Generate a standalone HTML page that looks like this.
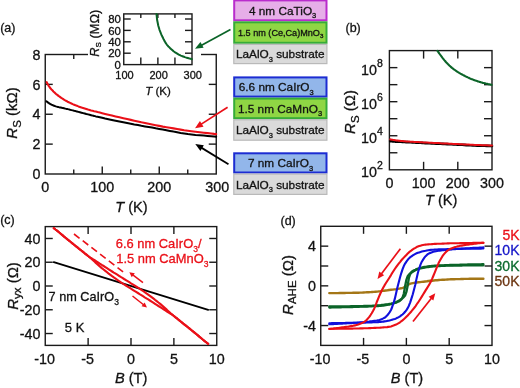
<!DOCTYPE html>
<html><head><meta charset="utf-8"><title>Figure</title>
<style>
html,body{margin:0;padding:0;background:#fff;}
body{width:520px;height:388px;overflow:hidden;font-family:'Liberation Sans', Arial, Helvetica, sans-serif;}
svg{display:block;}
svg text{font-family:'Liberation Sans', Arial, Helvetica, sans-serif;stroke-width:0.3px;paint-order:stroke;}
</style></head><body>
<svg width="520" height="388" viewBox="0 0 520 388">
<rect width="520" height="388" fill="#fff"/>
<rect x="45.25" y="54.5" width="171.0" height="119.5" fill="none" stroke="#1a1a1a" stroke-width="1.4"/>
<line x1="73.75" y1="174.00" x2="73.75" y2="169.50" stroke="#1a1a1a" stroke-width="1.4" />
<line x1="73.75" y1="54.50" x2="73.75" y2="59.00" stroke="#1a1a1a" stroke-width="1.4" />
<line x1="102.25" y1="174.00" x2="102.25" y2="166.50" stroke="#1a1a1a" stroke-width="1.4" />
<line x1="102.25" y1="54.50" x2="102.25" y2="62.00" stroke="#1a1a1a" stroke-width="1.4" />
<line x1="130.75" y1="174.00" x2="130.75" y2="169.50" stroke="#1a1a1a" stroke-width="1.4" />
<line x1="130.75" y1="54.50" x2="130.75" y2="59.00" stroke="#1a1a1a" stroke-width="1.4" />
<line x1="159.25" y1="174.00" x2="159.25" y2="166.50" stroke="#1a1a1a" stroke-width="1.4" />
<line x1="159.25" y1="54.50" x2="159.25" y2="62.00" stroke="#1a1a1a" stroke-width="1.4" />
<line x1="187.75" y1="174.00" x2="187.75" y2="169.50" stroke="#1a1a1a" stroke-width="1.4" />
<line x1="187.75" y1="54.50" x2="187.75" y2="59.00" stroke="#1a1a1a" stroke-width="1.4" />
<line x1="45.25" y1="144.12" x2="52.75" y2="144.12" stroke="#1a1a1a" stroke-width="1.4" />
<line x1="216.25" y1="144.12" x2="208.75" y2="144.12" stroke="#1a1a1a" stroke-width="1.4" />
<line x1="45.25" y1="114.25" x2="52.75" y2="114.25" stroke="#1a1a1a" stroke-width="1.4" />
<line x1="216.25" y1="114.25" x2="208.75" y2="114.25" stroke="#1a1a1a" stroke-width="1.4" />
<line x1="45.25" y1="84.38" x2="52.75" y2="84.38" stroke="#1a1a1a" stroke-width="1.4" />
<line x1="216.25" y1="84.38" x2="208.75" y2="84.38" stroke="#1a1a1a" stroke-width="1.4" />
<text x="40.50" y="179.20" font-size="14.3" text-anchor="end" fill="#111" stroke="#111" >0</text>
<text x="40.50" y="149.32" font-size="14.3" text-anchor="end" fill="#111" stroke="#111" >2</text>
<text x="40.50" y="119.45" font-size="14.3" text-anchor="end" fill="#111" stroke="#111" >4</text>
<text x="40.50" y="89.58" font-size="14.3" text-anchor="end" fill="#111" stroke="#111" >6</text>
<text x="40.50" y="59.70" font-size="14.3" text-anchor="end" fill="#111" stroke="#111" >8</text>
<text x="45.25" y="192.30" font-size="14.3" text-anchor="middle" fill="#111" stroke="#111" >0</text>
<text x="102.25" y="192.30" font-size="14.3" text-anchor="middle" fill="#111" stroke="#111" >100</text>
<text x="159.25" y="192.30" font-size="14.3" text-anchor="middle" fill="#111" stroke="#111" >200</text>
<text x="217.25" y="192.30" font-size="14.3" text-anchor="middle" fill="#111" stroke="#111" >300</text>
<text x="131.50" y="211.80" font-size="14.6" text-anchor="middle" fill="#111" stroke="#111" ><tspan font-style="italic">T</tspan> (K)</text>
<text transform="translate(17,113) rotate(-90)" font-size="15" text-anchor="middle" fill="#111" stroke="#111"><tspan font-style="italic">R</tspan><tspan font-size="11.5" dy="3.8">S</tspan><tspan dy="-3.8" font-size="1">&#8203;</tspan> (kΩ)</text>
<path d="M46.4,101.3 L46.5,101.4 L46.7,101.5 L46.9,101.6 L47.1,101.8 L47.3,102 L47.6,102.2 L47.8,102.4 L48.1,102.6 L48.4,102.8 L48.7,103 L49,103.2 L49.3,103.4 L49.6,103.7 L50,103.9 L50.4,104.1 L51,104.4 L51.5,104.7 L52.1,104.9 L52.8,105.2 L53.4,105.5 L54.2,105.8 L55,106.1 L55.8,106.4 L56.6,106.6 L57.6,106.9 L58.5,107.1 L59.6,107.4 L60.6,107.6 L61.7,107.8 L62.9,108.1 L64,108.3 L65.2,108.6 L66.4,108.9 L67.6,109.1 L68.8,109.4 L70.1,109.8 L71.4,110.1 L72.7,110.4 L74.1,110.8 L75.5,111.1 L76.9,111.5 L78.4,111.9 L79.9,112.3 L81.5,112.7 L83.1,113.1 L84.7,113.5 L86.3,114 L88,114.4 L89.6,114.8 L91.1,115.2 L92.6,115.6 L94.1,115.9 L95.8,116.4 L97.6,116.8 L99.8,117.3 L102.2,117.8 L105.1,118.5 L108.4,119.2 L111.9,119.9 L115.6,120.7 L119.4,121.5 L123.3,122.3 L127.1,123.1 L130.8,123.8 L134.3,124.5 L137.9,125.1 L141.4,125.8 L145,126.4 L148.6,127 L152.1,127.6 L155.7,128.3 L159.2,128.9 L162.8,129.5 L166.4,130.2 L169.9,130.9 L173.5,131.6 L177.1,132.2 L180.6,132.9 L184.2,133.4 L187.8,134 L191.5,134.4 L195.5,134.9 L199.7,135.3 L203.8,135.6 L207.6,135.9 L211.1,136.2 L214.1,136.5 L216.2,136.7" fill="none" stroke="#000" stroke-width="2.0" stroke-linejoin="round" stroke-linecap="round" />
<path d="M46.7,82.1 L46.8,82.3 L46.9,82.6 L47,82.9 L47.2,83.2 L47.4,83.6 L47.6,84 L47.8,84.4 L48.1,84.8 L48.4,85.3 L48.6,85.7 L48.9,86.2 L49.3,86.7 L49.6,87.2 L50,87.7 L50.4,88.3 L51,88.9 L51.5,89.5 L52.1,90.1 L52.8,90.8 L53.4,91.5 L54.2,92.2 L55,92.9 L55.8,93.7 L56.6,94.4 L57.6,95.1 L58.5,95.9 L59.6,96.6 L60.6,97.4 L61.7,98.2 L62.9,98.9 L64,99.7 L65.2,100.4 L66.4,101 L67.6,101.7 L68.8,102.3 L70.1,102.9 L71.4,103.5 L72.7,104.1 L74.1,104.7 L75.5,105.3 L76.9,105.8 L78.4,106.4 L79.9,106.9 L81.5,107.5 L83.1,108 L84.7,108.5 L86.3,109 L88,109.5 L89.6,109.9 L91.1,110.4 L92.6,110.8 L94.1,111.2 L95.8,111.6 L97.6,112.1 L99.8,112.6 L102.2,113.2 L105.1,113.9 L108.4,114.7 L111.9,115.5 L115.6,116.4 L119.4,117.3 L123.3,118.2 L127.1,119.1 L130.8,119.9 L134.3,120.7 L137.9,121.5 L141.4,122.3 L145,123 L148.6,123.8 L152.1,124.5 L155.7,125.2 L159.2,125.9 L162.8,126.6 L166.4,127.2 L169.9,127.8 L173.5,128.4 L177.1,129 L180.6,129.6 L184.2,130.2 L187.8,130.7 L191.5,131.2 L195.5,131.7 L199.7,132.2 L203.8,132.7 L207.6,133.1 L211.1,133.5 L214.1,133.9 L216.2,134.1" fill="none" stroke="#ea1018" stroke-width="2.1" stroke-linejoin="round" stroke-linecap="round" />
<text x="0.20" y="31.60" font-size="12.5" text-anchor="start" fill="#111" stroke="#111" >(a)</text>
<rect x="88" y="0" width="113" height="98" fill="#fff"/>
<rect x="123.75" y="13.9" width="68.25" height="50.699999999999996" fill="none" stroke="#1a1a1a" stroke-width="1.4"/>
<line x1="140.81" y1="64.60" x2="140.81" y2="57.60" stroke="#1a1a1a" stroke-width="1.4" />
<line x1="140.81" y1="13.90" x2="140.81" y2="17.90" stroke="#1a1a1a" stroke-width="1.4" />
<line x1="157.88" y1="64.60" x2="157.88" y2="57.60" stroke="#1a1a1a" stroke-width="1.4" />
<line x1="157.88" y1="13.90" x2="157.88" y2="17.90" stroke="#1a1a1a" stroke-width="1.4" />
<line x1="174.94" y1="64.60" x2="174.94" y2="57.60" stroke="#1a1a1a" stroke-width="1.4" />
<line x1="174.94" y1="13.90" x2="174.94" y2="17.90" stroke="#1a1a1a" stroke-width="1.4" />
<line x1="123.75" y1="53.20" x2="130.75" y2="53.20" stroke="#1a1a1a" stroke-width="1.4" />
<line x1="192.00" y1="53.20" x2="185.00" y2="53.20" stroke="#1a1a1a" stroke-width="1.4" />
<line x1="123.75" y1="41.80" x2="130.75" y2="41.80" stroke="#1a1a1a" stroke-width="1.4" />
<line x1="192.00" y1="41.80" x2="185.00" y2="41.80" stroke="#1a1a1a" stroke-width="1.4" />
<line x1="123.75" y1="30.40" x2="130.75" y2="30.40" stroke="#1a1a1a" stroke-width="1.4" />
<line x1="192.00" y1="30.40" x2="185.00" y2="30.40" stroke="#1a1a1a" stroke-width="1.4" />
<line x1="123.75" y1="19.00" x2="130.75" y2="19.00" stroke="#1a1a1a" stroke-width="1.4" />
<line x1="192.00" y1="19.00" x2="185.00" y2="19.00" stroke="#1a1a1a" stroke-width="1.4" />
<text x="120.80" y="68.70" font-size="11.4" text-anchor="end" fill="#111" stroke="#111" >0</text>
<text x="120.80" y="57.30" font-size="11.4" text-anchor="end" fill="#111" stroke="#111" >20</text>
<text x="120.80" y="45.90" font-size="11.4" text-anchor="end" fill="#111" stroke="#111" >40</text>
<text x="120.80" y="34.50" font-size="11.4" text-anchor="end" fill="#111" stroke="#111" >60</text>
<text x="120.80" y="23.10" font-size="11.4" text-anchor="end" fill="#111" stroke="#111" >80</text>
<text x="124.55" y="79.20" font-size="11" text-anchor="middle" fill="#111" stroke="#111" >100</text>
<text x="158.68" y="79.20" font-size="11" text-anchor="middle" fill="#111" stroke="#111" >200</text>
<text x="192.80" y="79.20" font-size="11" text-anchor="middle" fill="#111" stroke="#111" >300</text>
<text x="158.00" y="95.20" font-size="11.5" text-anchor="middle" fill="#111" stroke="#111" ><tspan font-style="italic">T</tspan> (K)</text>
<text transform="translate(98.8,33.2) rotate(-90)" font-size="12.8" text-anchor="middle" fill="#111" stroke="#111"><tspan font-style="italic">R</tspan><tspan font-size="8" dy="2.2">S</tspan><tspan dy="-2.2" font-size="1">&#8203;</tspan> (MΩ)</text>
<path d="M156.5,13.9 L156.6,14.4 L156.6,15.1 L156.7,15.9 L156.8,16.8 L156.9,17.8 L157,18.8 L157.1,19.8 L157.3,20.8 L157.5,21.7 L157.7,22.7 L157.9,23.7 L158.1,24.7 L158.3,25.8 L158.6,26.8 L158.9,27.8 L159.2,28.8 L159.5,29.8 L159.9,30.8 L160.3,31.8 L160.7,32.8 L161.1,33.9 L161.5,34.9 L162,35.8 L162.4,36.8 L162.9,37.7 L163.3,38.7 L163.8,39.6 L164.3,40.5 L164.7,41.4 L165.3,42.3 L165.8,43.2 L166.4,44 L167,44.8 L167.7,45.6 L168.3,46.4 L169.1,47.1 L169.8,47.8 L170.5,48.6 L171.3,49.2 L172,49.9 L172.8,50.5 L173.5,51.2 L174.3,51.8 L175.1,52.4 L176,52.9 L176.8,53.4 L177.6,53.9 L178.4,54.4 L179.2,54.8 L180,55.2 L180.8,55.6 L181.6,55.9 L182.4,56.2 L183.2,56.5 L184,56.8 L184.8,57.1 L185.7,57.4 L186.7,57.7 L187.7,58 L188.7,58.3 L189.7,58.6 L190.5,58.8 L191.3,59 L191.8,59.2" fill="none" stroke="#0b6428" stroke-width="2.0" stroke-linejoin="round" stroke-linecap="round" />
<line x1="230.50" y1="29.50" x2="201.15" y2="45.41" stroke="#0b6428" stroke-width="1.7" />
<polygon points="195.00,48.75 200.46,42.04 203.61,47.84" fill="#0b6428"/>
<line x1="227.60" y1="107.20" x2="200.88" y2="124.41" stroke="#ea1018" stroke-width="1.7" />
<polygon points="195.00,128.20 199.94,121.09 203.51,126.64" fill="#ea1018"/>
<line x1="228.50" y1="164.20" x2="201.28" y2="147.64" stroke="#000" stroke-width="1.8" />
<polygon points="195.30,144.00 203.85,145.34 200.42,150.98" fill="#000"/>
<rect x="234.2" y="0.4" width="92.3" height="19.900000000000002" fill="#e6aee8" stroke="#b92ccc" stroke-width="2.0"/>
<text x="282.60" y="14.60" font-size="11.8" text-anchor="middle" fill="#111" stroke="#111" >4 nm CaTiO<tspan font-size="7.5" dy="3.8">3</tspan><tspan dy="-3.8" font-size="1">&#8203;</tspan></text>
<rect x="234.2" y="22.3" width="92.3" height="20.499999999999996" fill="#8fd644" stroke="#36ac38" stroke-width="2.0"/>
<text x="280.70" y="35.83" font-size="9.1" text-anchor="middle" fill="#111" stroke="#111" >1.5 nm (Ce,Ca)MnO<tspan font-size="6.2" dy="2.6">3</tspan><tspan dy="-2.6" font-size="1">&#8203;</tspan></text>
<rect x="233.79999999999998" y="44.4" width="93.1" height="19.200000000000006" fill="#dadada" stroke="#b9b9b9" stroke-width="1.2"/>
<text x="280.30" y="58.25" font-size="11.8" text-anchor="middle" fill="#111" stroke="#111" >LaAlO<tspan font-size="7.5" dy="3.8">3</tspan><tspan dy="-3.8" font-size="1">&#8203;</tspan> substrate</text>
<rect x="234.2" y="77.4" width="92.3" height="19.19999999999999" fill="#92b6ea" stroke="#1c2cd2" stroke-width="2.0"/>
<text x="276.20" y="91.25" font-size="11.8" text-anchor="middle" fill="#111" stroke="#111" >6.6 nm CaIrO<tspan font-size="7.5" dy="3.8">3</tspan><tspan dy="-3.8" font-size="1">&#8203;</tspan></text>
<rect x="234.2" y="98.6" width="92.3" height="19.60000000000001" fill="#8fd644" stroke="#36ac38" stroke-width="2.0"/>
<text x="280.00" y="112.65" font-size="11.8" text-anchor="middle" fill="#111" stroke="#111" >1.5 nm CaMnO<tspan font-size="7.5" dy="3.8">3</tspan><tspan dy="-3.8" font-size="1">&#8203;</tspan></text>
<rect x="233.79999999999998" y="119.8" width="93.1" height="20.40000000000001" fill="#dadada" stroke="#b9b9b9" stroke-width="1.2"/>
<text x="280.30" y="134.25" font-size="11.8" text-anchor="middle" fill="#111" stroke="#111" >LaAlO<tspan font-size="7.5" dy="3.8">3</tspan><tspan dy="-3.8" font-size="1">&#8203;</tspan> substrate</text>
<rect x="234.2" y="153.3" width="92.3" height="19.19999999999999" fill="#92b6ea" stroke="#1c2cd2" stroke-width="2.0"/>
<text x="280.50" y="167.15" font-size="11.8" text-anchor="middle" fill="#111" stroke="#111" >7 nm CaIrO<tspan font-size="7.5" dy="3.8">3</tspan><tspan dy="-3.8" font-size="1">&#8203;</tspan></text>
<rect x="233.79999999999998" y="174.1" width="93.1" height="20.3" fill="#dadada" stroke="#b9b9b9" stroke-width="1.2"/>
<text x="280.30" y="188.50" font-size="11.8" text-anchor="middle" fill="#111" stroke="#111" >LaAlO<tspan font-size="7.5" dy="3.8">3</tspan><tspan dy="-3.8" font-size="1">&#8203;</tspan> substrate</text>
<rect x="389.4" y="50.6" width="102.60000000000002" height="119.20000000000002" fill="none" stroke="#1a1a1a" stroke-width="1.4"/>
<line x1="423.60" y1="169.80" x2="423.60" y2="161.80" stroke="#1a1a1a" stroke-width="1.4" />
<line x1="423.60" y1="50.60" x2="423.60" y2="58.60" stroke="#1a1a1a" stroke-width="1.4" />
<line x1="457.80" y1="169.80" x2="457.80" y2="161.80" stroke="#1a1a1a" stroke-width="1.4" />
<line x1="457.80" y1="50.60" x2="457.80" y2="58.60" stroke="#1a1a1a" stroke-width="1.4" />
<line x1="389.40" y1="152.77" x2="397.40" y2="152.77" stroke="#1a1a1a" stroke-width="1.4" />
<line x1="492.00" y1="152.77" x2="484.00" y2="152.77" stroke="#1a1a1a" stroke-width="1.4" />
<line x1="389.40" y1="135.74" x2="397.40" y2="135.74" stroke="#1a1a1a" stroke-width="1.4" />
<line x1="492.00" y1="135.74" x2="484.00" y2="135.74" stroke="#1a1a1a" stroke-width="1.4" />
<line x1="389.40" y1="118.71" x2="397.40" y2="118.71" stroke="#1a1a1a" stroke-width="1.4" />
<line x1="492.00" y1="118.71" x2="484.00" y2="118.71" stroke="#1a1a1a" stroke-width="1.4" />
<line x1="389.40" y1="101.69" x2="397.40" y2="101.69" stroke="#1a1a1a" stroke-width="1.4" />
<line x1="492.00" y1="101.69" x2="484.00" y2="101.69" stroke="#1a1a1a" stroke-width="1.4" />
<line x1="389.40" y1="84.66" x2="397.40" y2="84.66" stroke="#1a1a1a" stroke-width="1.4" />
<line x1="492.00" y1="84.66" x2="484.00" y2="84.66" stroke="#1a1a1a" stroke-width="1.4" />
<line x1="389.40" y1="67.63" x2="397.40" y2="67.63" stroke="#1a1a1a" stroke-width="1.4" />
<line x1="492.00" y1="67.63" x2="484.00" y2="67.63" stroke="#1a1a1a" stroke-width="1.4" />
<text x="382.80" y="177.40" font-size="14.3" text-anchor="end" fill="#111" stroke="#111" >10<tspan font-size="10.5" dy="-8.2">2</tspan></text>
<text x="382.80" y="143.34" font-size="14.3" text-anchor="end" fill="#111" stroke="#111" >10<tspan font-size="10.5" dy="-8.2">4</tspan></text>
<text x="382.80" y="109.29" font-size="14.3" text-anchor="end" fill="#111" stroke="#111" >10<tspan font-size="10.5" dy="-8.2">6</tspan></text>
<text x="382.80" y="75.23" font-size="14.3" text-anchor="end" fill="#111" stroke="#111" >10<tspan font-size="10.5" dy="-8.2">8</tspan></text>
<text x="389.40" y="188.40" font-size="14.3" text-anchor="middle" fill="#111" stroke="#111" >0</text>
<text x="423.60" y="188.40" font-size="14.3" text-anchor="middle" fill="#111" stroke="#111" >100</text>
<text x="457.80" y="188.40" font-size="14.3" text-anchor="middle" fill="#111" stroke="#111" >200</text>
<text x="492.00" y="188.40" font-size="14.3" text-anchor="middle" fill="#111" stroke="#111" >300</text>
<text x="441.20" y="204.50" font-size="14.6" text-anchor="middle" fill="#111" stroke="#111" ><tspan font-style="italic">T</tspan> (K)</text>
<text transform="translate(355,112) rotate(-90)" font-size="15" text-anchor="middle" fill="#111" stroke="#111"><tspan font-style="italic">R</tspan><tspan font-size="11.5" dy="3.8">S</tspan><tspan dy="-3.8" font-size="1">&#8203;</tspan> (Ω)</text>
<text x="345.50" y="31.80" font-size="12.5" text-anchor="start" fill="#111" stroke="#111" >(b)</text>
<path d="M390.1,141.1 L390.2,141.1 L390.3,141.1 L390.4,141.1 L390.5,141.1 L390.6,141.1 L390.8,141.2 L390.9,141.2 L391.1,141.2 L391.3,141.2 L391.4,141.2 L391.6,141.3 L391.8,141.3 L392,141.3 L392.3,141.3 L392.5,141.4 L392.8,141.4 L393.2,141.4 L393.5,141.4 L393.9,141.5 L394.3,141.5 L394.8,141.5 L395.2,141.6 L395.7,141.6 L396.2,141.6 L396.8,141.7 L397.4,141.7 L398,141.7 L398.6,141.7 L399.3,141.8 L400,141.8 L400.7,141.8 L401.4,141.8 L402.1,141.9 L402.8,141.9 L403.5,141.9 L404.3,142 L405.1,142 L405.9,142.1 L406.7,142.1 L407.5,142.1 L408.4,142.2 L409.3,142.2 L410.2,142.3 L411.1,142.3 L412.1,142.4 L413.1,142.4 L414.1,142.5 L415,142.5 L416,142.6 L416.9,142.6 L417.8,142.7 L418.7,142.7 L419.7,142.8 L420.8,142.8 L422.1,142.9 L423.6,143 L425.3,143.1 L427.3,143.2 L429.4,143.3 L431.6,143.4 L433.9,143.5 L436.2,143.6 L438.5,143.7 L440.7,143.8 L442.8,143.9 L445,144 L447.1,144.1 L449.2,144.2 L451.4,144.3 L453.5,144.4 L455.7,144.5 L457.8,144.6 L459.9,144.7 L462.1,144.8 L464.2,144.9 L466.4,145.1 L468.5,145.2 L470.6,145.3 L472.8,145.4 L474.9,145.5 L477.2,145.6 L479.6,145.6 L482.1,145.7 L484.5,145.8 L486.8,145.9 L488.9,145.9 L490.7,146 L492,146" fill="none" stroke="#000" stroke-width="2.6" stroke-linejoin="round" stroke-linecap="round" />
<path d="M390.3,139.3 L390.3,139.4 L390.4,139.4 L390.5,139.4 L390.6,139.4 L390.7,139.5 L390.8,139.5 L391,139.5 L391.1,139.6 L391.3,139.6 L391.4,139.6 L391.6,139.7 L391.8,139.7 L392,139.8 L392.3,139.8 L392.5,139.8 L392.8,139.9 L393.2,140 L393.5,140 L393.9,140.1 L394.3,140.1 L394.8,140.2 L395.2,140.3 L395.7,140.3 L396.2,140.4 L396.8,140.5 L397.4,140.5 L398,140.6 L398.6,140.7 L399.3,140.8 L400,140.8 L400.7,140.9 L401.4,141 L402.1,141 L402.8,141.1 L403.5,141.2 L404.3,141.2 L405.1,141.3 L405.9,141.4 L406.7,141.4 L407.5,141.5 L408.4,141.5 L409.3,141.6 L410.2,141.7 L411.1,141.7 L412.1,141.8 L413.1,141.8 L414.1,141.9 L415,142 L416,142 L416.9,142.1 L417.8,142.1 L418.7,142.1 L419.7,142.2 L420.8,142.3 L422.1,142.3 L423.6,142.4 L425.3,142.5 L427.3,142.6 L429.4,142.7 L431.6,142.8 L433.9,142.9 L436.2,143 L438.5,143.1 L440.7,143.3 L442.8,143.4 L445,143.5 L447.1,143.6 L449.2,143.7 L451.4,143.8 L453.5,143.9 L455.7,144 L457.8,144.1 L459.9,144.2 L462.1,144.3 L464.2,144.4 L466.4,144.5 L468.5,144.6 L470.6,144.7 L472.8,144.8 L474.9,144.9 L477.2,145 L479.6,145.1 L482.1,145.2 L484.5,145.2 L486.8,145.3 L488.9,145.4 L490.7,145.5 L492,145.5" fill="none" stroke="#ea1018" stroke-width="2.0" stroke-linejoin="round" stroke-linecap="round" />
<path d="M437.4,50.8 L437.9,51.4 L438.5,52.3 L439.2,53.4 L440,54.5 L440.9,55.7 L441.8,56.9 L442.7,58.1 L443.5,59.1 L444.3,60.1 L445.1,61 L445.9,62 L446.8,62.9 L447.6,63.8 L448.5,64.6 L449.3,65.5 L450.2,66.3 L451.1,67.1 L452,67.9 L453,68.6 L453.9,69.3 L454.9,70 L455.8,70.7 L456.7,71.3 L457.6,71.9 L458.4,72.4 L459.2,72.9 L459.9,73.3 L460.6,73.7 L461.4,74.1 L462.1,74.5 L462.8,74.9 L463.6,75.3 L464.4,75.7 L465.2,76.2 L466.1,76.6 L467,77 L467.8,77.4 L468.7,77.8 L469.5,78.2 L470.4,78.6 L471.2,79 L472.1,79.3 L472.9,79.6 L473.8,79.9 L474.6,80.2 L475.4,80.5 L476.3,80.8 L477.1,81.1 L477.9,81.4 L478.7,81.6 L479.6,81.9 L480.4,82.1 L481.2,82.4 L482,82.6 L482.9,82.9 L483.8,83.1 L484.8,83.3 L485.9,83.6 L487,83.8 L488.1,84.1 L489.2,84.3 L490.2,84.5 L491,84.7 L491.6,84.8" fill="none" stroke="#0b6428" stroke-width="2.1" stroke-linejoin="round" stroke-linecap="round" />
<rect x="45.25" y="226.6" width="171.5" height="118.79999999999998" fill="none" stroke="#1a1a1a" stroke-width="1.4"/>
<line x1="88.12" y1="345.40" x2="88.12" y2="337.90" stroke="#1a1a1a" stroke-width="1.4" />
<line x1="88.12" y1="226.60" x2="88.12" y2="234.10" stroke="#1a1a1a" stroke-width="1.4" />
<line x1="131.00" y1="345.40" x2="131.00" y2="337.90" stroke="#1a1a1a" stroke-width="1.4" />
<line x1="131.00" y1="226.60" x2="131.00" y2="234.10" stroke="#1a1a1a" stroke-width="1.4" />
<line x1="173.88" y1="345.40" x2="173.88" y2="337.90" stroke="#1a1a1a" stroke-width="1.4" />
<line x1="173.88" y1="226.60" x2="173.88" y2="234.10" stroke="#1a1a1a" stroke-width="1.4" />
<line x1="45.25" y1="333.52" x2="52.75" y2="333.52" stroke="#1a1a1a" stroke-width="1.4" />
<line x1="216.75" y1="333.52" x2="209.25" y2="333.52" stroke="#1a1a1a" stroke-width="1.4" />
<text x="40.50" y="338.72" font-size="14.3" text-anchor="end" fill="#111" stroke="#111" >-40</text>
<line x1="45.25" y1="309.76" x2="52.75" y2="309.76" stroke="#1a1a1a" stroke-width="1.4" />
<line x1="216.75" y1="309.76" x2="209.25" y2="309.76" stroke="#1a1a1a" stroke-width="1.4" />
<text x="40.50" y="314.96" font-size="14.3" text-anchor="end" fill="#111" stroke="#111" >-20</text>
<line x1="45.25" y1="286.00" x2="52.75" y2="286.00" stroke="#1a1a1a" stroke-width="1.4" />
<line x1="216.75" y1="286.00" x2="209.25" y2="286.00" stroke="#1a1a1a" stroke-width="1.4" />
<text x="40.50" y="291.20" font-size="14.3" text-anchor="end" fill="#111" stroke="#111" >0</text>
<line x1="45.25" y1="262.24" x2="52.75" y2="262.24" stroke="#1a1a1a" stroke-width="1.4" />
<line x1="216.75" y1="262.24" x2="209.25" y2="262.24" stroke="#1a1a1a" stroke-width="1.4" />
<text x="40.50" y="267.44" font-size="14.3" text-anchor="end" fill="#111" stroke="#111" >20</text>
<line x1="45.25" y1="238.48" x2="52.75" y2="238.48" stroke="#1a1a1a" stroke-width="1.4" />
<line x1="216.75" y1="238.48" x2="209.25" y2="238.48" stroke="#1a1a1a" stroke-width="1.4" />
<text x="40.50" y="243.68" font-size="14.3" text-anchor="end" fill="#111" stroke="#111" >40</text>
<text x="44.65" y="364.00" font-size="14.3" text-anchor="middle" fill="#111" stroke="#111" >-10</text>
<text x="87.53" y="364.00" font-size="14.3" text-anchor="middle" fill="#111" stroke="#111" >-5</text>
<text x="131.00" y="364.00" font-size="14.3" text-anchor="middle" fill="#111" stroke="#111" >0</text>
<text x="173.88" y="364.00" font-size="14.3" text-anchor="middle" fill="#111" stroke="#111" >5</text>
<text x="216.75" y="364.00" font-size="14.3" text-anchor="middle" fill="#111" stroke="#111" >10</text>
<text x="131.20" y="383.00" font-size="14.6" text-anchor="middle" fill="#111" stroke="#111" ><tspan font-style="italic">B</tspan> (T)</text>
<text transform="translate(17.5,286) rotate(-90)" font-size="15" text-anchor="middle" fill="#111" stroke="#111"><tspan font-style="italic">R</tspan><tspan font-size="11.5" dy="3.8">yx</tspan><tspan dy="-3.8" font-size="1">&#8203;</tspan> (Ω)</text>
<text x="0.20" y="223.90" font-size="12.5" text-anchor="start" fill="#111" stroke="#111" >(c)</text>
<path d="M53.8,262.2 L208.2,309.8" fill="none" stroke="#000" stroke-width="1.9" stroke-linejoin="round" stroke-linecap="round" />
<path d="M53.8,228.1 L55.5,229.5 L57.3,230.9 L59,232.3 L60.7,233.7 L62.4,235.1 L64.1,236.6 L65.8,238 L67.5,239.4 L69.3,240.8 L71,242.2 L72.7,243.6 L74.4,245 L76.1,246.4 L77.8,247.7 L79.5,249.1 L81.3,250.5 L83,251.9 L84.7,253.3 L86.4,254.6 L88.1,256 L89.8,257.3 L91.6,258.4 L93.3,259.5 L95,260.5 L96.7,261.6 L98.4,262.7 L100.1,263.8 L101.8,264.9 L103.6,266 L105.3,267.1 L107,268.2 L108.7,269.3 L110.4,270.4 L112.1,271.5 L113.8,272.6 L115.6,273.7 L117.3,274.7 L119,275.8 L120.7,276.9 L122.4,277.9 L124.1,279 L125.9,280.1 L127.6,281.1 L129.3,282.2 L131,283.3 L132.7,284.3 L134.4,285.4 L136.1,286.5 L137.9,287.6 L139.6,288.7 L141.3,289.8 L143,291 L144.7,292.2 L146.4,293.4 L148.2,294.6 L149.9,295.8 L151.6,297.1 L153.3,298.4 L155,299.8 L156.7,301.1 L158.4,302.5 L160.2,303.9 L161.9,305.4 L163.6,306.9 L165.3,308.4 L167,309.9 L168.7,311.5 L170.4,313.1 L172.2,314.7 L173.9,316 L175.6,317.4 L177.3,318.7 L179,320.1 L180.7,321.5 L182.4,322.9 L184.2,324.3 L185.9,325.6 L187.6,327 L189.3,328.4 L191,329.8 L192.7,331.2 L194.5,332.6 L196.2,334 L197.9,335.4 L199.6,336.9 L201.3,338.3 L203,339.7 L204.7,341.1 L206.5,342.5 L208.2,343.9" fill="none" stroke="#ea1018" stroke-width="2.1" stroke-linejoin="round" stroke-linecap="round" />
<path d="M53.8,228.1 L55.5,229.5 L57.3,230.9 L59,232.3 L60.7,233.7 L62.4,235.1 L64.1,236.6 L65.8,238 L67.5,239.4 L69.3,240.8 L71,242.2 L72.7,243.6 L74.4,245 L76.1,246.4 L77.8,247.7 L79.5,249.1 L81.3,250.5 L83,251.9 L84.7,253.3 L86.4,254.6 L88.1,256 L89.8,257.3 L91.6,258.9 L93.3,260.5 L95,262.1 L96.7,263.6 L98.4,265.1 L100.1,266.6 L101.8,268.1 L103.6,269.5 L105.3,270.9 L107,272.2 L108.7,273.6 L110.4,274.9 L112.1,276.2 L113.8,277.4 L115.6,278.6 L117.3,279.8 L119,281 L120.7,282.2 L122.4,283.3 L124.1,284.4 L125.9,285.5 L127.6,286.6 L129.3,287.7 L131,288.7 L132.7,289.8 L134.4,290.9 L136.1,291.9 L137.9,293 L139.6,294.1 L141.3,295.1 L143,296.2 L144.7,297.3 L146.4,298.3 L148.2,299.4 L149.9,300.5 L151.6,301.6 L153.3,302.7 L155,303.8 L156.7,304.9 L158.4,306 L160.2,307.1 L161.9,308.2 L163.6,309.3 L165.3,310.4 L167,311.5 L168.7,312.5 L170.4,313.6 L172.2,314.7 L173.9,316 L175.6,317.4 L177.3,318.7 L179,320.1 L180.7,321.5 L182.4,322.9 L184.2,324.3 L185.9,325.6 L187.6,327 L189.3,328.4 L191,329.8 L192.7,331.2 L194.5,332.6 L196.2,334 L197.9,335.4 L199.6,336.9 L201.3,338.3 L203,339.7 L204.7,341.1 L206.5,342.5 L208.2,343.9" fill="none" stroke="#ea1018" stroke-width="2.1" stroke-linejoin="round" stroke-linecap="round" />
<line x1="74.00" y1="234.00" x2="124.00" y2="272.60" stroke="#ea1018" stroke-width="1.6" stroke-dasharray="7,4"/>
<line x1="143.00" y1="282.60" x2="132.49" y2="274.62" stroke="#ea1018" stroke-width="1.5" />
<polygon points="129.30,272.20 134.79,273.23 131.77,277.21" fill="#ea1018"/>
<line x1="132.50" y1="296.00" x2="143.87" y2="305.01" stroke="#ea1018" stroke-width="1.5" />
<polygon points="147.00,307.50 141.53,306.35 144.64,302.43" fill="#ea1018"/>
<text x="115.80" y="248.00" font-size="12.9" text-anchor="start" fill="#ea1018" stroke="#ea1018" >6.6 nm CaIrO<tspan font-size="8.5" dy="4.2">3</tspan><tspan dy="-4.2" font-size="1">&#8203;</tspan>/</text>
<text x="116.30" y="263.20" font-size="12.9" text-anchor="start" fill="#ea1018" stroke="#ea1018" >1.5 nm CaMnO<tspan font-size="8.5" dy="4.2">3</tspan><tspan dy="-4.2" font-size="1">&#8203;</tspan></text>
<text x="48.60" y="300.60" font-size="12.7" text-anchor="start" fill="#111" stroke="#111" >7 nm CaIrO<tspan font-size="8.5" dy="4.4">3</tspan><tspan dy="-4.4" font-size="1">&#8203;</tspan></text>
<text x="64.80" y="331.60" font-size="13" text-anchor="start" fill="#111" stroke="#111" >5 K</text>
<rect x="320.75" y="226.3" width="171.25" height="119.09999999999997" fill="none" stroke="#1a1a1a" stroke-width="1.4"/>
<line x1="363.56" y1="345.40" x2="363.56" y2="337.90" stroke="#1a1a1a" stroke-width="1.4" />
<line x1="363.56" y1="226.30" x2="363.56" y2="233.80" stroke="#1a1a1a" stroke-width="1.4" />
<line x1="406.38" y1="345.40" x2="406.38" y2="337.90" stroke="#1a1a1a" stroke-width="1.4" />
<line x1="406.38" y1="226.30" x2="406.38" y2="233.80" stroke="#1a1a1a" stroke-width="1.4" />
<line x1="449.19" y1="345.40" x2="449.19" y2="337.90" stroke="#1a1a1a" stroke-width="1.4" />
<line x1="449.19" y1="226.30" x2="449.19" y2="233.80" stroke="#1a1a1a" stroke-width="1.4" />
<line x1="320.75" y1="325.55" x2="328.25" y2="325.55" stroke="#1a1a1a" stroke-width="1.4" />
<line x1="492.00" y1="325.55" x2="484.50" y2="325.55" stroke="#1a1a1a" stroke-width="1.4" />
<line x1="320.75" y1="305.70" x2="328.25" y2="305.70" stroke="#1a1a1a" stroke-width="1.4" />
<line x1="492.00" y1="305.70" x2="484.50" y2="305.70" stroke="#1a1a1a" stroke-width="1.4" />
<line x1="320.75" y1="285.85" x2="328.25" y2="285.85" stroke="#1a1a1a" stroke-width="1.4" />
<line x1="492.00" y1="285.85" x2="484.50" y2="285.85" stroke="#1a1a1a" stroke-width="1.4" />
<line x1="320.75" y1="266.00" x2="328.25" y2="266.00" stroke="#1a1a1a" stroke-width="1.4" />
<line x1="492.00" y1="266.00" x2="484.50" y2="266.00" stroke="#1a1a1a" stroke-width="1.4" />
<line x1="320.75" y1="246.15" x2="328.25" y2="246.15" stroke="#1a1a1a" stroke-width="1.4" />
<line x1="492.00" y1="246.15" x2="484.50" y2="246.15" stroke="#1a1a1a" stroke-width="1.4" />
<text x="316.00" y="330.75" font-size="14.3" text-anchor="end" fill="#111" stroke="#111" >-4</text>
<text x="316.00" y="291.05" font-size="14.3" text-anchor="end" fill="#111" stroke="#111" >0</text>
<text x="316.00" y="251.35" font-size="14.3" text-anchor="end" fill="#111" stroke="#111" >4</text>
<text x="320.15" y="364.00" font-size="14.3" text-anchor="middle" fill="#111" stroke="#111" >-10</text>
<text x="362.96" y="364.00" font-size="14.3" text-anchor="middle" fill="#111" stroke="#111" >-5</text>
<text x="406.38" y="364.00" font-size="14.3" text-anchor="middle" fill="#111" stroke="#111" >0</text>
<text x="449.19" y="364.00" font-size="14.3" text-anchor="middle" fill="#111" stroke="#111" >5</text>
<text x="492.00" y="364.00" font-size="14.3" text-anchor="middle" fill="#111" stroke="#111" >10</text>
<text x="407.00" y="383.00" font-size="14.6" text-anchor="middle" fill="#111" stroke="#111" ><tspan font-style="italic">B</tspan> (T)</text>
<text transform="translate(292.5,285) rotate(-90)" font-size="15" text-anchor="middle" fill="#111" stroke="#111"><tspan font-style="italic">R</tspan><tspan font-size="11.5" dy="3.8">AHE</tspan><tspan dy="-3.8" font-size="1">&#8203;</tspan> (Ω)</text>
<text x="280.50" y="224.80" font-size="12.5" text-anchor="start" fill="#111" stroke="#111" >(d)</text>
<path d="M329.3,293.1 L331,293.1 L332.7,293.1 L334.4,293.1 L336.2,293.1 L337.9,293.1 L339.6,293 L341.3,293 L343,293 L344.7,293 L346.4,292.9 L348.1,292.9 L349.9,292.9 L351.6,292.9 L353.3,292.8 L355,292.8 L356.7,292.8 L358.4,292.7 L360.1,292.6 L361.9,292.6 L363.6,292.5 L365.3,292.4 L367,292.3 L368.7,292.2 L370.4,292.1 L372.1,292 L373.8,291.9 L375.6,291.7 L377.3,291.6 L379,291.4 L380.7,291.2 L382.4,290.9 L384.1,290.7 L385.8,290.5 L387.5,290.3 L389.2,290 L391,289.8 L392.7,289.6 L394.4,289.4 L396.1,289.2 L397.8,288.9 L399.5,288.6 L401.2,288.3 L402.9,287.8 L404.7,287 L406.4,285.9 L408.1,284.7 L409.8,283.9 L411.5,283.4 L413.2,283.1 L414.9,282.8 L416.6,282.5 L418.4,282.3 L420.1,282.1 L421.8,281.9 L423.5,281.7 L425.2,281.5 L426.9,281.3 L428.6,281 L430.4,280.8 L432.1,280.7 L433.8,280.5 L435.5,280.3 L437.2,280.2 L438.9,280 L440.6,279.9 L442.3,279.8 L444.1,279.7 L445.8,279.6 L447.5,279.5 L449.2,279.4 L450.9,279.3 L452.6,279.3 L454.3,279.2 L456,279.1 L457.8,279.1 L459.5,279.1 L461.2,279 L462.9,279 L464.6,278.9 L466.3,278.9 L468,278.9 L469.7,278.8 L471.5,278.8 L473.2,278.8 L474.9,278.8 L476.6,278.7 L478.3,278.7 L480,278.7 L481.7,278.7 L483.4,278.7" fill="none" stroke="#a47616" stroke-width="2.4" stroke-linejoin="round" stroke-linecap="round" />
<path d="M329.3,307.5 L330.6,307.5 L331.9,307.4 L333.2,307.4 L334.4,307.4 L335.7,307.4 L337,307.4 L338.3,307.3 L339.6,307.3 L340.9,307.3 L342.2,307.2 L343.4,307.2 L344.7,307.2 L346,307.1 L347.3,307.1 L348.6,307.1 L349.9,307 L351.1,307 L352.4,307 L353.7,306.9 L355,306.9 L356.3,306.9 L357.6,306.8 L358.9,306.8 L360.1,306.7 L361.4,306.7 L362.7,306.7 L364,306.6 L365.3,306.6 L366.6,306.5 L367.8,306.5 L369.1,306.4 L370.4,306.4 L371.7,306.3 L373,306.2 L374.3,306.2 L375.6,306.1 L376.8,306 L378.1,306 L379.4,305.9 L380.7,305.8 L382,305.6 L383.3,305.5 L384.5,305.3 L385.8,305.1 L387.1,304.9 L388.4,304.7 L389.7,304.5 L391,304.2 L392.2,303.8 L393.5,303.5 L394.8,303 L396.1,302.6 L397.4,302 L398.7,301.5 L400,300.7 L401.2,299.7 L402.5,297.7 L403.8,293.8 L405.1,286.3 L406.4,279.8 L407.7,276.2 L408.9,274.6 L410.2,273.5 L411.5,272.6 L412.8,271.7 L414.1,271 L415.4,270.3 L416.6,269.6 L417.9,269.1 L419.2,268.7 L420.5,268.4 L421.8,268.1 L423.1,267.9 L424.4,267.6 L425.6,267.4 L426.9,267.2 L428.2,267 L429.5,266.8 L430.8,266.7 L432.1,266.5 L433.3,266.4 L434.6,266.3 L435.9,266.2 L437.2,266.1 L438.5,266 L439.8,266 L441.1,265.9 L442.3,265.9 L443.6,265.8 L444.9,265.8 L446.2,265.7 L447.5,265.7 L448.8,265.7 L450,265.6 L451.3,265.6 L452.6,265.6 L453.9,265.6 L455.2,265.5 L456.5,265.5 L457.8,265.5 L459,265.5 L460.3,265.5 L461.6,265.5 L462.9,265.4 L464.2,265.4 L465.5,265.4 L466.7,265.4 L468,265.4 L469.3,265.4 L470.6,265.4 L471.9,265.4 L473.2,265.3 L474.4,265.3 L475.7,265.3 L477,265.3 L478.3,265.3 L479.6,265.3 L480.9,265.3 L482.2,265.3 L483.4,265.3" fill="none" stroke="#0b6428" stroke-width="2.3" stroke-linejoin="round" stroke-linecap="round" />
<path d="M483.4,264.2 L482.2,264.2 L480.9,264.3 L479.6,264.3 L478.3,264.3 L477,264.3 L475.7,264.3 L474.4,264.4 L473.2,264.4 L471.9,264.4 L470.6,264.5 L469.3,264.5 L468,264.5 L466.7,264.6 L465.5,264.6 L464.2,264.6 L462.9,264.7 L461.6,264.7 L460.3,264.7 L459,264.8 L457.8,264.8 L456.5,264.8 L455.2,264.9 L453.9,264.9 L452.6,265 L451.3,265 L450,265 L448.8,265.1 L447.5,265.1 L446.2,265.2 L444.9,265.2 L443.6,265.3 L442.3,265.3 L441.1,265.4 L439.8,265.5 L438.5,265.5 L437.2,265.6 L435.9,265.7 L434.6,265.7 L433.3,265.8 L432.1,265.9 L430.8,266.1 L429.5,266.2 L428.2,266.4 L426.9,266.6 L425.6,266.8 L424.4,267 L423.1,267.2 L421.8,267.5 L420.5,267.9 L419.2,268.2 L417.9,268.7 L416.6,269.1 L415.4,269.7 L414.1,270.2 L412.8,271 L411.5,272 L410.2,274 L408.9,277.9 L407.7,285.4 L406.4,291.9 L405.1,295.5 L403.8,297.1 L402.5,298.2 L401.2,299.1 L400,300 L398.7,300.7 L397.4,301.4 L396.1,302.1 L394.8,302.6 L393.5,303 L392.2,303.3 L391,303.6 L389.7,303.8 L388.4,304.1 L387.1,304.3 L385.8,304.5 L384.5,304.7 L383.3,304.9 L382,305 L380.7,305.2 L379.4,305.3 L378.1,305.4 L376.8,305.5 L375.6,305.6 L374.3,305.7 L373,305.7 L371.7,305.8 L370.4,305.8 L369.1,305.9 L367.8,305.9 L366.6,306 L365.3,306 L364,306 L362.7,306.1 L361.4,306.1 L360.1,306.1 L358.9,306.1 L357.6,306.2 L356.3,306.2 L355,306.2 L353.7,306.2 L352.4,306.2 L351.1,306.2 L349.9,306.3 L348.6,306.3 L347.3,306.3 L346,306.3 L344.7,306.3 L343.4,306.3 L342.2,306.3 L340.9,306.3 L339.6,306.4 L338.3,306.4 L337,306.4 L335.7,306.4 L334.4,306.4 L333.2,306.4 L331.9,306.4 L330.6,306.4 L329.3,306.4" fill="none" stroke="#0b6428" stroke-width="2.3" stroke-linejoin="round" stroke-linecap="round" />
<path d="M329.3,324.3 L330.6,324.2 L331.9,324.2 L333.2,324.1 L334.4,324 L335.7,324 L337,323.9 L338.3,323.8 L339.6,323.8 L340.9,323.7 L342.2,323.6 L343.4,323.5 L344.7,323.5 L346,323.4 L347.3,323.3 L348.6,323.2 L349.9,323.1 L351.1,323.1 L352.4,323 L353.7,322.9 L355,322.8 L356.3,322.7 L357.6,322.6 L358.9,322.5 L360.1,322.4 L361.4,322.3 L362.7,322.2 L364,322 L365.3,321.9 L366.6,321.8 L367.8,321.7 L369.1,321.6 L370.4,321.4 L371.7,321.3 L373,321.1 L374.3,320.9 L375.6,320.7 L376.8,320.5 L378.1,320.2 L379.4,319.9 L380.7,319.5 L382,319 L383.3,318.4 L384.5,317.8 L385.8,316.8 L387.1,315.5 L388.4,314 L389.7,312.1 L391,310 L392.2,307 L393.5,303.2 L394.8,298.9 L396.1,293.3 L397.4,287.5 L398.7,282.4 L400,277.5 L401.2,273.3 L402.5,269.4 L403.8,266 L405.1,263.6 L406.4,261.6 L407.7,259.9 L408.9,258.4 L410.2,257.2 L411.5,256.3 L412.8,255.4 L414.1,254.6 L415.4,253.9 L416.6,253.3 L417.9,252.8 L419.2,252.4 L420.5,252 L421.8,251.6 L423.1,251.3 L424.4,251 L425.6,250.8 L426.9,250.5 L428.2,250.3 L429.5,250.1 L430.8,249.9 L432.1,249.8 L433.3,249.7 L434.6,249.6 L435.9,249.5 L437.2,249.5 L438.5,249.4 L439.8,249.4 L441.1,249.3 L442.3,249.3 L443.6,249.2 L444.9,249.2 L446.2,249.2 L447.5,249.1 L448.8,249.1 L450,249.1 L451.3,249.1 L452.6,249 L453.9,249 L455.2,249 L456.5,249 L457.8,248.9 L459,248.9 L460.3,248.9 L461.6,248.9 L462.9,248.8 L464.2,248.8 L465.5,248.8 L466.7,248.8 L468,248.7 L469.3,248.7 L470.6,248.7 L471.9,248.7 L473.2,248.7 L474.4,248.6 L475.7,248.6 L477,248.6 L478.3,248.6 L479.6,248.6 L480.9,248.6 L482.2,248.5 L483.4,248.5" fill="none" stroke="#1010dc" stroke-width="2.1" stroke-linejoin="round" stroke-linecap="round" />
<path d="M483.4,247.4 L482.2,247.5 L480.9,247.5 L479.6,247.6 L478.3,247.7 L477,247.7 L475.7,247.8 L474.4,247.9 L473.2,247.9 L471.9,248 L470.6,248.1 L469.3,248.2 L468,248.2 L466.7,248.3 L465.5,248.4 L464.2,248.5 L462.9,248.6 L461.6,248.6 L460.3,248.7 L459,248.8 L457.8,248.9 L456.5,249 L455.2,249.1 L453.9,249.2 L452.6,249.3 L451.3,249.4 L450,249.5 L448.8,249.7 L447.5,249.8 L446.2,249.9 L444.9,250 L443.6,250.1 L442.3,250.3 L441.1,250.4 L439.8,250.6 L438.5,250.8 L437.2,251 L435.9,251.2 L434.6,251.5 L433.3,251.8 L432.1,252.2 L430.8,252.7 L429.5,253.3 L428.2,253.9 L426.9,254.9 L425.6,256.2 L424.4,257.7 L423.1,259.6 L421.8,261.7 L420.5,264.7 L419.2,268.5 L417.9,272.8 L416.6,278.4 L415.4,284.2 L414.1,289.3 L412.8,294.2 L411.5,298.4 L410.2,302.3 L408.9,305.7 L407.7,308.1 L406.4,310.1 L405.1,311.8 L403.8,313.3 L402.5,314.5 L401.2,315.4 L400,316.3 L398.7,317.1 L397.4,317.8 L396.1,318.4 L394.8,318.9 L393.5,319.3 L392.2,319.7 L391,320.1 L389.7,320.4 L388.4,320.7 L387.1,320.9 L385.8,321.2 L384.5,321.4 L383.3,321.6 L382,321.8 L380.7,321.9 L379.4,322 L378.1,322.1 L376.8,322.2 L375.6,322.2 L374.3,322.3 L373,322.3 L371.7,322.4 L370.4,322.4 L369.1,322.5 L367.8,322.5 L366.6,322.5 L365.3,322.6 L364,322.6 L362.7,322.6 L361.4,322.6 L360.1,322.7 L358.9,322.7 L357.6,322.7 L356.3,322.7 L355,322.8 L353.7,322.8 L352.4,322.8 L351.1,322.8 L349.9,322.9 L348.6,322.9 L347.3,322.9 L346,322.9 L344.7,323 L343.4,323 L342.2,323 L340.9,323 L339.6,323 L338.3,323.1 L337,323.1 L335.7,323.1 L334.4,323.1 L333.2,323.1 L331.9,323.1 L330.6,323.2 L329.3,323.2" fill="none" stroke="#1010dc" stroke-width="2.1" stroke-linejoin="round" stroke-linecap="round" />
<path d="M329.3,329 L330.6,328.9 L331.9,328.7 L333.2,328.6 L334.4,328.4 L335.7,328.3 L337,328.1 L338.3,328 L339.6,327.8 L340.9,327.6 L342.2,327.4 L343.4,327.3 L344.7,327.1 L346,326.9 L347.3,326.7 L348.6,326.6 L349.9,326.3 L351.1,326.1 L352.4,325.9 L353.7,325.6 L355,325.4 L356.3,325 L357.6,324.7 L358.9,324.3 L360.1,323.8 L361.4,323.3 L362.7,322.7 L364,322 L365.3,321.1 L366.6,320 L367.8,318.6 L369.1,317.1 L370.4,315.3 L371.7,313.2 L373,310.9 L374.3,308.4 L375.6,305.3 L376.8,302 L378.1,298.8 L379.4,295.7 L380.7,292.8 L382,290 L383.3,287.6 L384.5,285.4 L385.8,283.3 L387.1,281.3 L388.4,279.3 L389.7,277.2 L391,275.1 L392.2,273 L393.5,271 L394.8,269 L396.1,267.2 L397.4,265.4 L398.7,263.7 L400,262.1 L401.2,260.5 L402.5,259 L403.8,257.6 L405.1,256.2 L406.4,254.9 L407.7,253.6 L408.9,252.4 L410.2,251.3 L411.5,250.4 L412.8,249.4 L414.1,248.5 L415.4,247.8 L416.6,247.1 L417.9,246.6 L419.2,246.1 L420.5,245.7 L421.8,245.3 L423.1,245 L424.4,244.8 L425.6,244.6 L426.9,244.5 L428.2,244.4 L429.5,244.3 L430.8,244.2 L432.1,244.1 L433.3,244 L434.6,243.9 L435.9,243.9 L437.2,243.8 L438.5,243.8 L439.8,243.7 L441.1,243.7 L442.3,243.6 L443.6,243.6 L444.9,243.5 L446.2,243.5 L447.5,243.4 L448.8,243.4 L450,243.3 L451.3,243.3 L452.6,243.3 L453.9,243.2 L455.2,243.2 L456.5,243.2 L457.8,243.2 L459,243.2 L460.3,243.1 L461.6,243.1 L462.9,243.1 L464.2,243.1 L465.5,243 L466.7,243 L468,243 L469.3,243 L470.6,243 L471.9,243 L473.2,242.9 L474.4,242.9 L475.7,242.9 L477,242.9 L478.3,242.9 L479.6,242.9 L480.9,242.9 L482.2,242.9 L483.4,242.9" fill="none" stroke="#ea1018" stroke-width="2.1" stroke-linejoin="round" stroke-linecap="round" />
<path d="M483.4,242.7 L482.2,242.8 L480.9,243 L479.6,243.1 L478.3,243.3 L477,243.4 L475.7,243.6 L474.4,243.7 L473.2,243.9 L471.9,244.1 L470.6,244.3 L469.3,244.4 L468,244.6 L466.7,244.8 L465.5,245 L464.2,245.1 L462.9,245.4 L461.6,245.6 L460.3,245.8 L459,246.1 L457.8,246.3 L456.5,246.7 L455.2,247 L453.9,247.4 L452.6,247.9 L451.3,248.4 L450,249 L448.8,249.7 L447.5,250.6 L446.2,251.7 L444.9,253.1 L443.6,254.6 L442.3,256.4 L441.1,258.5 L439.8,260.8 L438.5,263.3 L437.2,266.4 L435.9,269.7 L434.6,272.9 L433.3,276 L432.1,278.9 L430.8,281.7 L429.5,284.1 L428.2,286.3 L426.9,288.4 L425.6,290.4 L424.4,292.4 L423.1,294.5 L421.8,296.6 L420.5,298.7 L419.2,300.7 L417.9,302.7 L416.6,304.5 L415.4,306.3 L414.1,308 L412.8,309.6 L411.5,311.2 L410.2,312.7 L408.9,314.1 L407.7,315.5 L406.4,316.8 L405.1,318.1 L403.8,319.3 L402.5,320.4 L401.2,321.3 L400,322.3 L398.7,323.2 L397.4,323.9 L396.1,324.6 L394.8,325.1 L393.5,325.6 L392.2,326 L391,326.4 L389.7,326.7 L388.4,326.9 L387.1,327.1 L385.8,327.2 L384.5,327.3 L383.3,327.4 L382,327.5 L380.7,327.6 L379.4,327.7 L378.1,327.8 L376.8,327.8 L375.6,327.9 L374.3,327.9 L373,328 L371.7,328 L370.4,328.1 L369.1,328.1 L367.8,328.2 L366.6,328.2 L365.3,328.3 L364,328.3 L362.7,328.4 L361.4,328.4 L360.1,328.4 L358.9,328.5 L357.6,328.5 L356.3,328.5 L355,328.5 L353.7,328.5 L352.4,328.6 L351.1,328.6 L349.9,328.6 L348.6,328.6 L347.3,328.7 L346,328.7 L344.7,328.7 L343.4,328.7 L342.2,328.7 L340.9,328.7 L339.6,328.8 L338.3,328.8 L337,328.8 L335.7,328.8 L334.4,328.8 L333.2,328.8 L331.9,328.8 L330.6,328.8 L329.3,328.8" fill="none" stroke="#ea1018" stroke-width="2.1" stroke-linejoin="round" stroke-linecap="round" />
<line x1="400.40" y1="248.70" x2="381.12" y2="274.21" stroke="#ea1018" stroke-width="1.7" />
<polygon points="377.50,279.00 379.33,271.61 384.11,275.22" fill="#ea1018"/>
<line x1="413.00" y1="321.60" x2="431.59" y2="297.92" stroke="#ea1018" stroke-width="1.7" />
<polygon points="435.30,293.20 433.34,300.56 428.62,296.85" fill="#ea1018"/>
<text x="519.50" y="240.00" font-size="14" text-anchor="end" fill="#ea1018" stroke="#ea1018" >5K</text>
<text x="519.50" y="255.00" font-size="14" text-anchor="end" fill="#1414c8" stroke="#1414c8" >10K</text>
<text x="519.50" y="270.50" font-size="14" text-anchor="end" fill="#0b6a2e" stroke="#0b6a2e" >30K</text>
<text x="519.50" y="285.50" font-size="14" text-anchor="end" fill="#6b3410" stroke="#6b3410" >50K</text>
</svg>
</body></html>
